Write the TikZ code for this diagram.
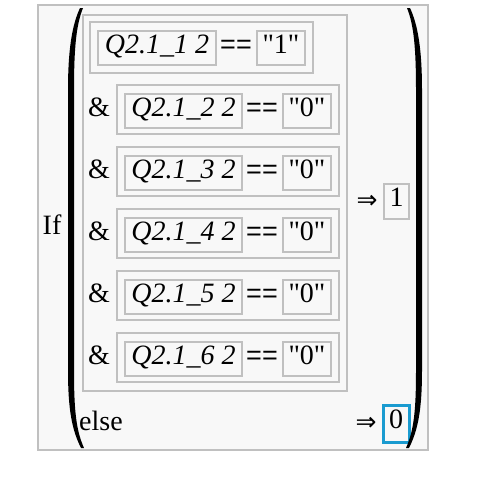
\documentclass[tikz,border=0pt]{standalone}
\usepackage{fontspec}
\setmainfont{Liberation Serif}[Ligatures=TeXOff]
\newfontfamily\sansf{Liberation Sans}[Ligatures=TeXOff]
\newfontfamily\symf{DejaVu Sans}
\newcommand\bigsz{\fontsize{28}{30}\selectfont}
\definecolor{bord}{HTML}{C0C0C0}
\definecolor{bgc}{HTML}{F8F8F8}
\definecolor{sel}{HTML}{1A9BD0}
\begin{document}
\begin{tikzpicture}[x=1pt,y=-1pt,
  box/.style={draw=bord,line width=2pt,inner sep=0pt},
  txt/.style={inner sep=0pt,text height=17pt,text depth=7pt,font=\bigsz},
  qtxt/.style={txt,font=\bigsz\itshape},
  eqtxt/.style={txt,font=\fontsize{27}{30}\selectfont\sansf},
  arr/.style={txt,font=\fontsize{25}{28}\selectfont\symf},
  paren/.style={fill=black}]
\useasboundingbox (0,0) rectangle (488,498);
\fill[white] (0,0) rectangle (488,498);
\node[box,fill=bgc,minimum width=390pt,minimum height=445pt] (outer) at (233,227.5) {};
\node[box,minimum width=264pt,minimum height=376pt] (conds) at (215,203) {};
% row 1
\node[box,minimum width=223pt,minimum height=51pt] (r1) at (201.5,47.5) {};
\node[box,qtxt,minimum width=118pt,minimum height=34pt] (q1) at (157,48) {Q2.1\_1 2};
\node[eqtxt] (eq1) at (236,48) {==};
\node[box,txt,minimum width=48pt,minimum height=34pt] (v1) at (281,48) {"1"};
% rows 2..6
\foreach \k in {2,...,6}{
  \pgfmathsetmacro{\t}{85+62*(\k-2)}
  \node[txt] (amp\k) at (99,\t+26) {\&};
  \node[box,minimum width=222pt,minimum height=49pt] (r\k) at (228,\t+24.5) {};
  \node[box,qtxt,minimum width=117pt,minimum height=34pt] (q\k) at (183.5,\t+26) {Q2.1\_\k\ 2};
  \node[eqtxt] (eq\k) at (262,\t+26) {==};
  \node[box,txt,minimum width=48pt,minimum height=34pt] (v\k) at (307,\t+26) {"0"};
}
\node[txt] (if) at (52,229) {If};
\node[arr] (imp1) at (367,203) {⇒};
\node[box,txt,minimum width=25pt,minimum height=35pt] (res1) at (396.5,201.5) {1};
\node[txt,anchor=base west] (else) at (79,430) {else};
\node[arr] (imp2) at (366,425) {⇒};
\node[draw=sel,line width=3pt,txt,minimum width=26pt,minimum height=37pt] (res0) at (396,423.5) {0};
% parentheses
\fill[paren] (80,8) .. controls (72,25) and (68,50) .. (68,90) -- (68,370)
  .. controls (68,410) and (72,430) .. (81,448) -- (84,448)
  .. controls (76,430) and (74,410) .. (74,370) -- (74,90)
  .. controls (74,50) and (76,25) .. (83,8) -- cycle;
\fill[paren] (410,8) .. controls (418,25) and (422,50) .. (422,90) -- (422,370)
  .. controls (422,410) and (418,430) .. (409,448) -- (406,448)
  .. controls (414,430) and (416,410) .. (416,370) -- (416,90)
  .. controls (416,50) and (414,25) .. (407,8) -- cycle;
\end{tikzpicture}
\end{document}
